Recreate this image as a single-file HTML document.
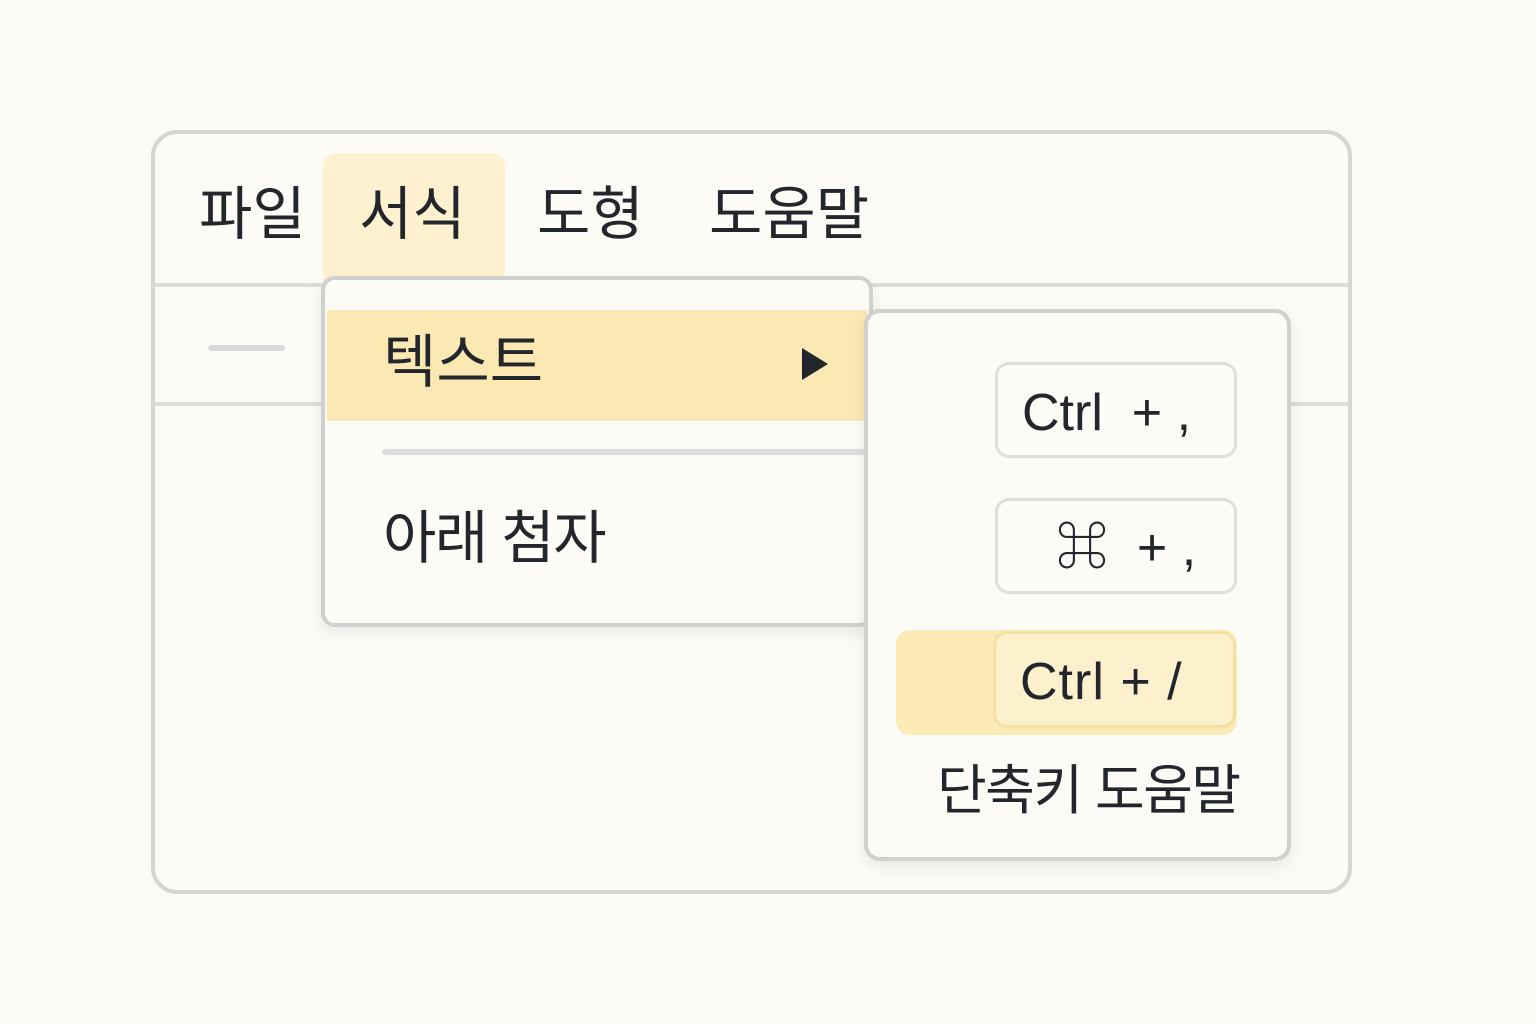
<!DOCTYPE html>
<html><head><meta charset="utf-8"><style>
body{margin:0;width:1536px;height:1024px;background:#fcfaf4;position:relative;overflow:hidden;font-family:"Liberation Sans","Noto Sans CJK KR",sans-serif;color:#23272c}
div{position:absolute;box-sizing:border-box}
.t{white-space:nowrap;line-height:1}
</style></head><body>
<div style="left:151px;top:130px;width:1201px;height:764px;border:4px solid #d5d5d3;border-radius:26px;background:#fcfbf6"></div>
<div style="left:323px;top:153px;width:182px;height:132px;background:#fdf1d0;border-radius:14px 14px 0 0"></div>
<div style="left:155px;top:283px;width:1193px;height:4px;background:#dcdcda"></div>
<div style="left:155px;top:402px;width:1193px;height:4px;background:#dcdcda"></div>
<div style="left:208px;top:345px;width:77px;height:6px;background:#d9d9d7;border-radius:3px"></div>
<div class="t" style="left:199px;top:186px;font-size:58px">파일</div>
<div class="t" style="left:359px;top:186px;font-size:58px">서식</div>
<div class="t" style="left:537px;top:186px;font-size:58px">도형</div>
<div class="t" style="left:709px;top:186px;font-size:58px">도움말</div>

<div style="left:321px;top:276px;width:552px;height:351px;border:4px solid #d0d0ce;border-radius:14px;background:#fcfbf6;box-shadow:0 6px 16px rgba(0,0,0,0.08)"></div>
<div style="left:327px;top:310px;width:540px;height:111px;background:#fce8b2"></div>
<div class="t" style="left:383px;top:334px;font-size:58px">텍스트</div>
<div style="left:802px;top:348px;width:0;height:0;border-top:16px solid transparent;border-bottom:16px solid transparent;border-left:26px solid #23272c"></div>
<div style="left:382px;top:449px;width:484px;height:6px;background:#dddddb;border-radius:3px"></div>
<div class="t" style="left:383px;top:510px;font-size:58px;letter-spacing:-1.5px">아래 첨자</div>

<div style="left:864px;top:309px;width:427px;height:552px;border:4px solid #d0d0ce;border-radius:16px;background:#fcfbf6;box-shadow:0 6px 16px rgba(0,0,0,0.08)"></div>
<div style="left:995px;top:362px;width:242px;height:96px;border:3px solid #dededc;border-radius:14px"></div>
<div class="t" style="left:1022px;top:387px;font-size:52px">Ctrl&nbsp;&nbsp;+&nbsp;,</div>
<div style="left:995px;top:498px;width:242px;height:96px;border:3px solid #dededc;border-radius:14px"></div>
<div class="t" style="left:1056px;top:522px;font-size:52px">⌘&nbsp;&nbsp;+&nbsp;,</div>
<div style="left:896px;top:630px;width:341px;height:105px;background:#fcebb6;border-radius:14px"></div>
<div style="left:993px;top:631px;width:243px;height:97px;background:#fdf0cd;border:3px solid #f4e0a2;border-radius:14px"></div>
<div class="t" style="left:1020px;top:656px;font-size:52px;letter-spacing:1px">Ctrl + /</div>
<div class="t" style="left:937px;top:764px;font-size:54px;letter-spacing:-1.5px">단축키 도움말</div>
</body></html>
